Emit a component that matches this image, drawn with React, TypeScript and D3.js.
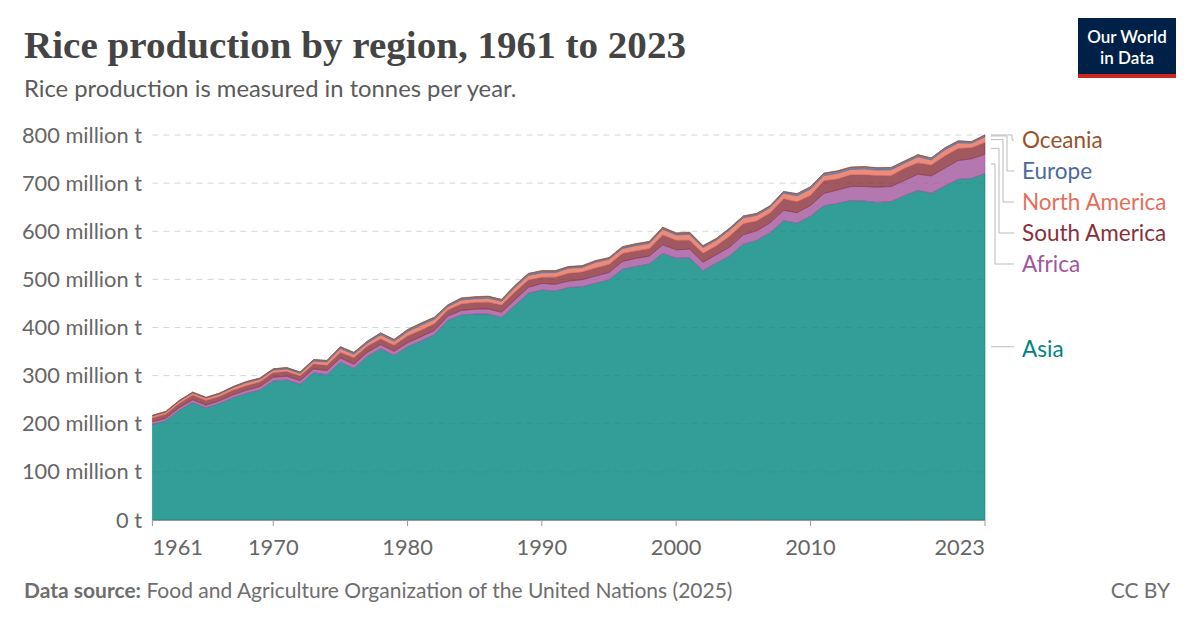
import { useEffect, useRef } from 'react'
import * as d3 from 'd3'

const years = d3.range(1961, 2024)

// million tonnes
const asia = [
  199, 206, 228, 244, 233, 242, 254, 263, 270, 289,
  291, 282, 306, 302, 328, 315, 340, 356, 342, 360,
  372, 385, 415, 426, 428, 428, 421, 446, 471, 478,
  476, 483, 485, 492, 499, 521, 527, 532, 554, 544,
  545, 518, 534, 549, 573, 581, 597, 622, 617, 631,
  653, 658, 664, 663, 660, 662, 674, 685, 679, 694,
  708, 710, 720,
]
const africa = [
  5.1, 5.3, 5.5, 5.8, 5.7, 5.9, 6.1, 6.6, 7.2, 7.6,
  7.7, 7.8, 8.0, 8.6, 8.8, 8.7, 8.3, 8.5, 8.4, 8.5,
  9.0, 8.8, 8.7, 9.4, 10.0, 10.5, 10.7, 11.6, 12.5, 13.6,
  13.8, 13.6, 14.4, 14.8, 15.2, 16.1, 16.6, 16.3, 17.7, 17.5,
  17.8, 17.7, 17.4, 18.2, 19.5, 20.0, 20.5, 21.5, 21.5, 22.5,
  25.5, 27.5, 29.0, 30.0, 31.5, 31.0, 31.5, 33.5, 36.0, 37.0,
  39.0, 40.5, 40.0,
]
const southAmerica = [
  8.0, 8.5, 8.7, 9.5, 9.8, 8.7, 9.6, 9.4, 9.7, 9.5,
  9.8, 9.4, 10.0, 10.7, 11.5, 13.5, 12.5, 11.8, 12.8, 14.0,
  13.5, 13.8, 12.5, 13.6, 13.7, 14.2, 15.0, 16.2, 15.0, 12.6,
  14.8, 16.0, 15.8, 17.0, 16.8, 16.6, 15.6, 15.5, 20.6, 19.7,
  18.5, 18.4, 18.4, 22.9, 23.0, 20.5, 20.5, 23.8, 22.6, 20.7,
  26.4, 23.2, 24.2, 24.2, 24.5, 22.3, 25.4, 23.5, 22.5, 25.3,
  25.0, 23.0, 24.5,
]
const northAmerica = [
  3.9, 4.2, 4.5, 4.6, 4.6, 5.0, 5.2, 6.3, 5.5, 5.3,
  5.4, 5.4, 6.0, 7.0, 8.1, 7.3, 6.7, 8.5, 8.0, 8.9,
  10.4, 9.4, 6.8, 8.1, 8.0, 8.1, 7.6, 9.4, 9.5, 9.4,
  9.5, 10.6, 9.6, 11.6, 10.6, 10.4, 10.9, 11.0, 11.8, 11.2,
  12.0, 11.9, 11.7, 13.0, 12.5, 11.5, 11.4, 11.8, 12.6, 13.6,
  10.9, 11.7, 11.3, 12.5, 11.3, 12.5, 10.4, 12.6, 10.7, 12.7,
  11.6, 9.4, 11.8,
]
const europe = [
  1.4, 1.5, 1.6, 1.6, 1.6, 1.8, 2.0, 2.2, 2.2, 2.5,
  2.6, 2.7, 3.0, 3.0, 3.4, 3.5, 3.6, 3.6, 3.5, 3.9,
  3.6, 3.8, 3.6, 3.6, 3.6, 3.7, 3.6, 3.8, 3.8, 3.7,
  3.4, 2.9, 2.9, 2.9, 2.9, 3.1, 3.0, 3.1, 3.2, 3.2,
  3.2, 3.3, 3.3, 3.4, 3.4, 3.4, 3.4, 3.4, 4.2, 4.3,
  4.3, 4.4, 4.1, 4.0, 4.2, 4.3, 4.1, 4.0, 4.0, 4.0,
  4.0, 3.2, 3.5,
]
const oceania = [
  0.15, 0.17, 0.18, 0.2, 0.2, 0.25, 0.25, 0.3, 0.3, 0.3,
  0.3, 0.25, 0.3, 0.4, 0.4, 0.5, 0.55, 0.5, 0.65, 0.7,
  0.85, 0.85, 0.55, 0.85, 0.85, 0.75, 0.6, 0.8, 0.85, 0.95,
  0.8, 0.95, 1.05, 1.1, 1.0, 0.95, 1.4, 1.35, 1.45, 1.1,
  1.8, 1.2, 0.45, 0.55, 0.35, 1.0, 0.17, 0.02, 0.06, 0.2,
  0.9, 0.95, 1.15, 0.8, 0.7, 0.28, 0.8, 0.65, 0.07, 0.05,
  0.45, 0.07, 0.55,
]

const regions = ['Asia', 'Africa', 'South America', 'North America', 'Europe', 'Oceania']
const seriesValues = [asia, africa, southAmerica, northAmerica, europe, oceania]
const colors = ['#00847e', '#a2559c', '#883039', '#e56e5a', '#4c6a9c', '#9a5129']

const yTicks = [0, 100, 200, 300, 400, 500, 600, 700, 800]
const xTicks = [1961, 1970, 1980, 1990, 2000, 2010, 2023]

// vertical centre of each legend label, and where its connector bends
const labelY = [349, 264, 233, 202, 171, 140]
const elbowX = [null, 995, 999, 1003, 1007, 1012]

const W = 1200, H = 627
const FONT = 'Lato, "Noto Sans", sans-serif'

export default function App() {
  const gRef = useRef<SVGGElement>(null)

  useEffect(() => {
    const g = d3.select(gRef.current)
    g.selectAll('*').remove()

    const x = d3.scaleLinear([1961, 2023], [152.4, 985])
    const y = d3.scaleLinear([0, 800], [520, 135])

    const table = years.map((yr, i) => {
      const row: Record<string, number> = { year: yr }
      regions.forEach((r, j) => { row[r] = seriesValues[j][i] })
      return row
    })
    const stacked = d3.stack<Record<string, number>>().keys(regions)(table)

    // gridlines
    g.append('g').selectAll('line')
      .data(yTicks.filter(d => d > 0))
      .join('line')
      .attr('x1', x(1961)).attr('x2', x(2023))
      .attr('y1', d => y(d)).attr('y2', d => y(d))
      .attr('stroke', '#d6d6d6').attr('stroke-dasharray', '6,5')

    // areas
    const area = d3.area<d3.SeriesPoint<Record<string, number>>>()
      .x(d => x(d.data.year))
      .y0(d => y(d[0])).y1(d => y(d[1]))
    g.append('g').selectAll('path')
      .data(stacked)
      .join('path')
      .attr('d', area)
      .attr('fill', (_, i) => colors[i])
      .attr('fill-opacity', 0.8)
      .attr('stroke', (_, i) => colors[i])
      .attr('stroke-width', 0.6)
      .attr('stroke-opacity', 0.9)

    // y tick labels
    g.append('g').selectAll('text')
      .data(yTicks)
      .join('text')
      .attr('x', 142).attr('y', d => y(d) + 7.5)
      .attr('text-anchor', 'end')
      .attr('font-family', FONT).attr('font-size', 21.8).attr('fill', '#666')
      .text(d => d === 0 ? '0 t' : `${d} million t`)

    // x axis
    g.append('line')
      .attr('x1', x(1961)).attr('x2', x(2023))
      .attr('y1', 520.5).attr('y2', 520.5)
      .attr('stroke', '#999')
    const xg = g.append('g').selectAll('g').data(xTicks).join('g')
    xg.append('line')
      .attr('x1', d => x(d)).attr('x2', d => x(d))
      .attr('y1', 520).attr('y2', 526)
      .attr('stroke', '#999')
    xg.append('text')
      .attr('x', d => x(d)).attr('y', 555)
      .attr('text-anchor', (d, i) => i === 0 ? 'start' : i === xTicks.length - 1 ? 'end' : 'middle')
      .attr('font-family', FONT).attr('font-size', 21.8).attr('fill', '#666')
      .text(d => d)

    // legend labels + connectors
    const last = stacked.map(s => s[s.length - 1])
    last.forEach((p, i) => {
      const mid = y((p[0] + p[1]) / 2)
      const ly = labelY[i]
      const ex = elbowX[i]
      const path = ex === null
        ? `M${x(2023) + 6},${mid}H1014`
        : `M${x(2023) + 6},${mid}H${ex}V${ly}H1014`
      g.append('path').attr('d', path)
        .attr('fill', 'none').attr('stroke', '#bbb').attr('stroke-width', 1)
      g.append('text')
        .attr('x', 1022).attr('y', ly + 8)
        .attr('font-family', FONT).attr('font-size', 22.5)
        .attr('fill', colors[i])
        .text(regions[i])
    })
  }, [])

  return (
    <svg width={W} height={H} viewBox={`0 0 ${W} ${H}`}
      style={{ display: 'block', position: 'absolute', left: 0, top: 0, background: '#fff' }}>
      <rect width={W} height={H} fill="#fff" />
      <text x={24} y={58} fontFamily='"Liberation Serif", "DejaVu Serif", serif' fontWeight={700}
        fontSize={38} fill="#444" textLength={662} lengthAdjust="spacingAndGlyphs">
        Rice production by region, 1961 to 2023
      </text>
      <text x={24} y={97} fontFamily={FONT} fontSize={23.8} fill="#5b5b5b">
        Rice production is measured in tonnes per year.
      </text>
      <g>
        <rect x={1078} y={18} width={98} height={56} fill="#002147" />
        <rect x={1078} y={74} width={98} height={4} fill="#ce261e" />
        <text x={1127} y={43} textAnchor="middle" fontFamily={FONT} fontSize={17} fontWeight={600} fill="#fff">Our World</text>
        <text x={1127} y={64} textAnchor="middle" fontFamily={FONT} fontSize={17} fontWeight={600} fill="#fff">in Data</text>
      </g>
      <g ref={gRef} />
      <text x={24} y={598} fontFamily={FONT} fontSize={21} fill="#6e6e6e">
        <tspan fontWeight={700}>Data source:</tspan> Food and Agriculture Organization of the United Nations (2025)
      </text>
      <text x={1170} y={598} textAnchor="end" fontFamily={FONT} fontSize={21} fill="#6e6e6e">CC BY</text>
    </svg>
  )
}
